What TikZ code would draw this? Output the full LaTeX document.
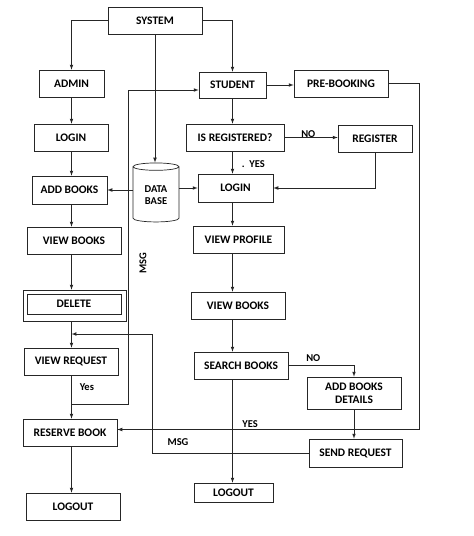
\documentclass[tikz,border=0pt]{standalone}
\usepackage{fontspec}
\setmainfont{Carlito}
\usetikzlibrary{arrows, shapes.geometric, positioning}

\begin{document}
\begin{tikzpicture}[x=1pt, y=-1pt, >=latex, line width=.7pt, draw=black!85,
  box/.style={draw, rectangle, inner sep=1pt, minimum height=27pt, font=\bfseries\fontsize{11.5}{13}\selectfont},
  lbl/.style={inner sep=1pt, font=\bfseries\fontsize{10.5}{12}\selectfont}]
\useasboundingbox (0,0) rectangle (474,536);
\node[box, minimum width=94pt](sys) at (155,20.5) {SYSTEM};
\node[box, minimum width=65pt](adm) at (71.5,83.5) {ADMIN};
\node[box, minimum width=67pt, minimum height=26pt](stu) at (232.5,85) {STUDENT};
\node[box, minimum width=94pt](pre) at (341,83.5) {PRE-BOOKING};
\node[box, minimum width=74pt](alog) at (71,137.5) {LOGIN};
\node[box, minimum width=98pt](isreg) at (235,137.5) {IS REGISTERED?};
\node[box, minimum width=74pt](reg) at (375,138.5) {REGISTER};
\node[draw, cylinder, shape border rotate=90, aspect=.3, minimum width=46pt, minimum height=59pt, align=center, lbl](db) at (156,195) {DATA\\BASE};
\node[box, minimum width=75pt, minimum height=28pt](aadd) at (69.5,190) {ADD BOOKS};
\node[box, minimum width=75pt, minimum height=28pt](slog) at (235.5,188) {LOGIN};
\node[box, minimum width=94pt](aview) at (74,240.5) {VIEW BOOKS};
\node[box, minimum width=91pt](vprof) at (238.5,239.5) {VIEW PROFILE};
\node[draw, minimum width=103pt, minimum height=31pt](delo) at (74.5,305.5) {};
\node[box, minimum width=94pt, minimum height=20pt](del) at (74,304) {DELETE};
\node[box, minimum width=94pt](sview) at (238,305.5) {VIEW BOOKS};
\node[box, minimum width=94pt](vreq) at (71,361.5) {VIEW REQUEST};
\node[box, minimum width=94pt](search) at (241,365.5) {SEARCH BOOKS};
\node[box, minimum width=94pt, minimum height=32pt, align=center](details) at (354,393) {ADD BOOKS\\DETAILS};
\node[box, minimum width=94pt](reserve) at (70,432.5) {RESERVE BOOK};
\node[box, minimum width=93pt, minimum height=28pt](send) at (355.5,453) {SEND REQUEST};
\node[box, minimum width=94pt](alogout) at (73,506.5) {LOGOUT};
\node[box, minimum width=79pt, minimum height=19pt](slogout) at (233.5,492.5) {LOGOUT};
\coordinate (msga) at (71.5,404);
\coordinate (msgb) at (71.5,334);
% system
\draw[->] (sys.west) -| (adm.north);
\draw[->] (sys.east) -| (stu.north);
\draw[->] (sys.south) -- (sys.south |- db.top);
% admin side
\draw[->] (adm.south) -- (adm |- alog.north);
\draw[->] (adm |- alog.south) -- (adm |- aadd.north);
\draw[->] (adm |- aadd.south) -- (adm |- aview.north);
\draw[->] (adm |- aview.south) -- (adm |- delo.north);
\draw[->] (adm |- delo.south) -- (adm |- vreq.north);
\draw[->] (adm |- vreq.south) -- (adm |- reserve.north) node[lbl, right=7pt, pos=.27]{Yes};
\draw[->] (adm |- reserve.south) -- (adm |- alogout.north);
% student side
\draw[->] (stu.south) -- (stu |- isreg.north);
\draw[->] (stu |- isreg.south) -- (stu |- slog.north) node[lbl, right=8pt, pos=.55]{.~~YES};
\draw[->] (isreg.east) -- (isreg.east -| reg.west) node[lbl, above=-1pt, pos=.45]{NO};
\draw[->] (reg.south) |- (slog.east);
\draw[->] (stu |- slog.south) -- (stu |- vprof.north);
\draw[->] (stu |- vprof.south) -- (stu |- sview.north);
\draw[->] (stu |- sview.south) -- (stu |- search.north);
\draw[->] (stu |- search.south) -- (stu |- slogout.north);
\draw[->] (stu.east) -- (stu.east -| pre.west);
\draw[->] (search.east) -| (details.north) node[lbl, above=3pt, pos=.19]{NO};
\draw[->] (details.south) -- (details.south |- send.north);
% database
\draw[->] (db.west |- aadd) -- (aadd.east);
\draw[->] (db.east |- slog) -- (slog.west);
% feedback lines
\draw[->] (msga) -- (128,404) |- ([yshift=-5pt]stu.west);
\node[lbl, rotate=90](msgv) at (143,263) {MSG};
\draw[->] (send.west) -| (152,334) -- (msgb);
\node[lbl](msgh) at (178,442) {MSG};
\draw[->] (pre.east) -- (419,83.5) |- ([yshift=3pt]reserve.east) node[lbl, above=1pt, pos=.78]{YES};
\end{tikzpicture}
\end{document}
